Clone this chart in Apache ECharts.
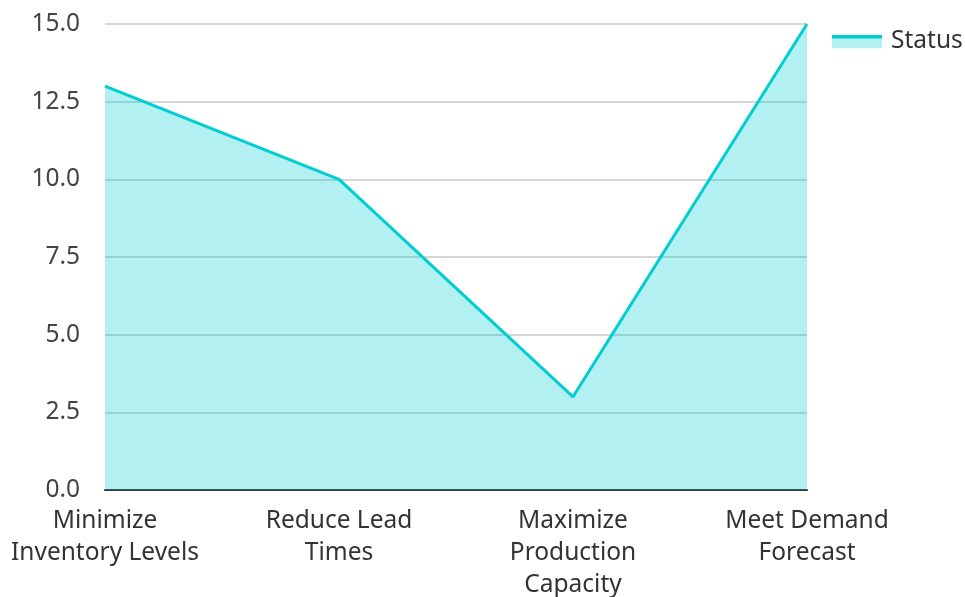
<!DOCTYPE html>
<html>
<head>
<meta charset="utf-8">
<script src="https://cdn.jsdelivr.net/npm/echarts@6/dist/echarts.min.js"></script>
<style>
  html, body { margin: 0; padding: 0; background: #fff; }
  #chart { width: 965px; height: 597px; }
</style>
</head>
<body>
<div id="chart"></div>
<script>
  // chart data
  var categories = ['Minimize\nInventory Levels', 'Reduce Lead\nTimes', 'Maximize\nProduction\nCapacity', 'Meet Demand\nForecast']
  var statusValues = [13, 10, 3, 15]
  var seriesName = 'Status'

  var chart = echarts.init(document.getElementById('chart'))
  var fontFamily = '"Noto Sans", "Open Sans", sans-serif'

  // legend icon: line on top of a light area swatch
  var iconSvg = '<svg xmlns="http://www.w3.org/2000/svg" width="50" height="14">' +
    '<rect x="0" y="3" width="50" height="11" fill="#b3f0f1"/>' +
    '<rect x="0" y="0" width="50" height="4" fill="#00CED1"/></svg>'
  var legendIcon = 'image://data:image/svg+xml;charset=utf-8,' + encodeURIComponent(iconSvg)

  chart.setOption({
    textStyle: { fontFamily: fontFamily },
    color: ['#00CED1'],
    legend: {
      data: [{ name: seriesName, icon: legendIcon }],
      left: 832,
      top: 29,
      padding: 0,
      itemWidth: 50,
      itemHeight: 14,
      itemGap: 10,
      textStyle: { fontSize: 24.5, color: '#333', fontFamily: fontFamily, padding: [0, 0, 6, 4] }
    },
    grid: {
      left: 105,
      right: 158,
      top: 24,
      bottom: 107,
      outerBoundsMode: 'none'
    },
    xAxis: {
      type: 'category',
      boundaryGap: false,
      data: categories,
      axisTick: { show: false },
      axisLine: { lineStyle: { color: '#333', width: 2 } },
      axisLabel: {
        fontSize: 24.5,
        color: '#333',
        lineHeight: 32,
        margin: 15,
        interval: 0,
        fontFamily: fontFamily
      }
    },
    yAxis: {
      type: 'value',
      min: 0,
      max: 15,
      interval: 2.5,
      axisLine: { show: false },
      axisTick: { show: false },
      axisLabel: {
        fontSize: 24.5,
        color: '#444',
        margin: 25,
        fontFamily: fontFamily,
        formatter: function (v) { return v.toFixed(1) }
      },
      splitLine: { lineStyle: { color: '#c8c8c8', width: 1.5 } }
    },
    series: [{
      name: seriesName,
      type: 'line',
      data: statusValues,
      showSymbol: false,
      symbol: 'none',
      lineStyle: { width: 3, color: '#00CED1' },
      areaStyle: { color: '#00CED1', opacity: 0.3 }
    }]
  })
</script>
</body>
</html>
